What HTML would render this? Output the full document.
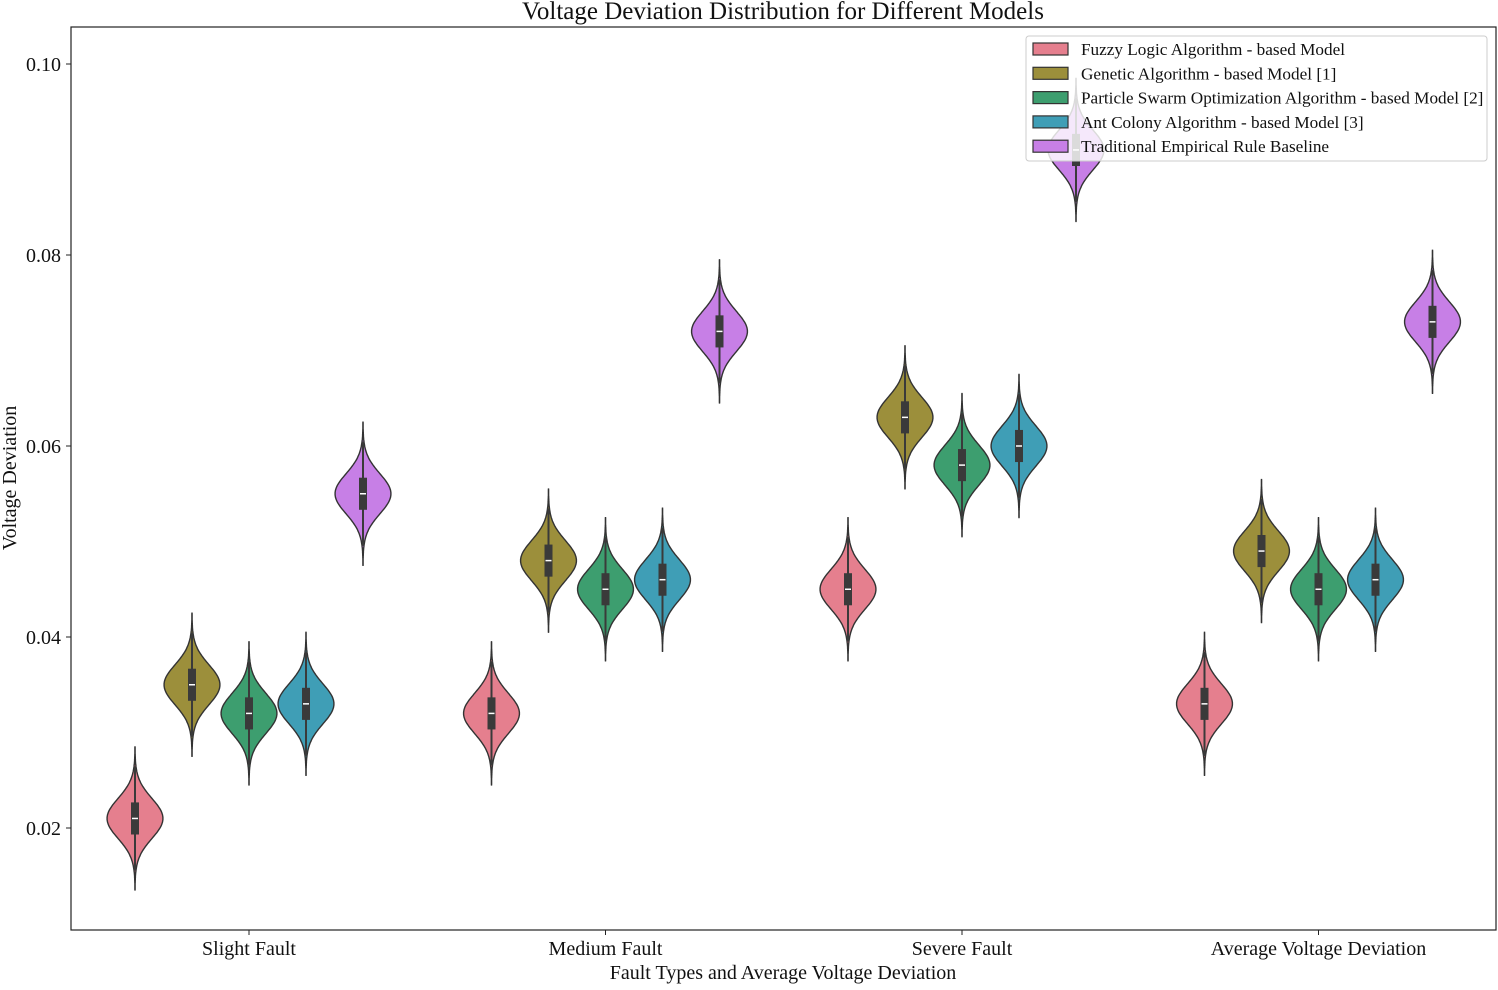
<!DOCTYPE html>
<html><head><meta charset="utf-8"><style>
body{margin:0;background:#fff}
svg text{font-family:"Liberation Serif",serif;fill:#111}
</style></head><body>
<svg id="c" width="1498" height="985"></svg>
<script>
const categories=["Slight Fault","Medium Fault","Severe Fault","Average Voltage Deviation"];
const models=["Fuzzy Logic Algorithm - based Model","Genetic Algorithm - based Model [1]","Particle Swarm Optimization Algorithm - based Model [2]","Ant Colony Algorithm - based Model [3]","Traditional Empirical Rule Baseline"];
const fuzzy=[0.021,0.032,0.045,0.033];
const genetic=[0.035,0.048,0.063,0.049];
const pso=[0.032,0.045,0.058,0.045];
const ant=[0.033,0.046,0.060,0.046];
const baseline=[0.055,0.072,0.091,0.073];
const spread=[0.0021,0.0021,0.0021,0.0021,0.0021];
const yTicks=[0.02,0.04,0.06,0.08,0.10];
const series=[fuzzy,genetic,pso,ant,baseline];
const colors=["#e57f8e","#9c8f3b","#3d9e6f","#3f9eb6","#c77fe6"];
const NS="http://www.w3.org/2000/svg";
const svg=document.getElementById('c');
const L=71,R=1496,T=27,B=930;
const y=v=>828-(v-0.02)*9550;
const x=i=>249+i*356.5;
function mk(t,a,p){const e=document.createElementNS(NS,t);for(const k in a)e.setAttribute(k,a[k]);(p||svg).appendChild(e);return e;}
const title=mk('text',{x:783,y:19,'text-anchor':'middle','font-size':25});title.textContent="Voltage Deviation Distribution for Different Models";


const frame=mk('rect',{x:L,y:T,width:R-L,height:B-T,fill:'none',stroke:'#222','stroke-width':1.2});


yTicks.forEach(v=>{mk('line',{x1:L-5,x2:L,y1:y(v),y2:y(v),stroke:'#222'});
const t=mk('text',{x:L-10,y:y(v)+7,'text-anchor':'end','font-size':20});t.textContent=v.toFixed(2);

});
categories.forEach((c,i)=>{mk('line',{x1:x(i),x2:x(i),y1:B,y2:B+5,stroke:'#222'});
const t=mk('text',{x:x(i),y:955,'text-anchor':'middle','font-size':20});t.textContent=c;

});
const xt=mk('text',{x:783,y:979,'text-anchor':'middle','font-size':20});xt.textContent="Fault Types and Average Voltage Deviation";


const yt=mk('text',{x:16,y:478,'text-anchor':'middle','font-size':20,transform:'rotate(-90 16 478)'});yt.textContent="Voltage Deviation";


const hw=57*0.5;
series.forEach((s,m)=>{s.forEach((med,i)=>{
 const cx=x(i)+(m-2)*57, sd=spread[m];
 const g=mk('g',{});
 
 
 let lp=[],rp=[];
 for(let k=-60;k<=60;k++){const z=k/60*3.6;const d=Math.exp(-z*z/2);const w=hw*d*0.98;const yy=y(med+z*sd);lp.push([cx-w,yy]);rp.unshift([cx+w,yy]);}
 mk('path',{d:'M'+lp.concat(rp).map(p=>p[0].toFixed(1)+','+p[1].toFixed(1)).join('L')+'Z',fill:colors[m],stroke:'#333','stroke-width':1.4},g);
 mk('line',{x1:cx,x2:cx,y1:y(med+2.6*sd),y2:y(med-2.6*sd),stroke:'#3a3a3a','stroke-width':2},g);
 mk('rect',{x:cx-4,y:y(med+0.8*sd),width:8,height:y(med-0.8*sd)-y(med+0.8*sd),fill:'#3a3a3a'},g);
 mk('line',{x1:cx-3,x2:cx+3,y1:y(med),y2:y(med),stroke:'#fff','stroke-width':1.5},g);
});});
const lg=mk('g',{});


mk('rect',{x:1026,y:36,width:461,height:125,rx:3,fill:'rgba(255,255,255,0.82)',stroke:'#ccc'},lg);
models.forEach((n,m)=>{const yy=49+m*24.3;
 const sw=mk('rect',{x:1033,y:yy-6,width:35,height:12,fill:colors[m],stroke:'#333','stroke-width':1.2},lg);
 
 
 const t=mk('text',{x:1081,y:yy+6,'font-size':17.2},lg);t.textContent=n;
 
 });
</script>
</body></html>
